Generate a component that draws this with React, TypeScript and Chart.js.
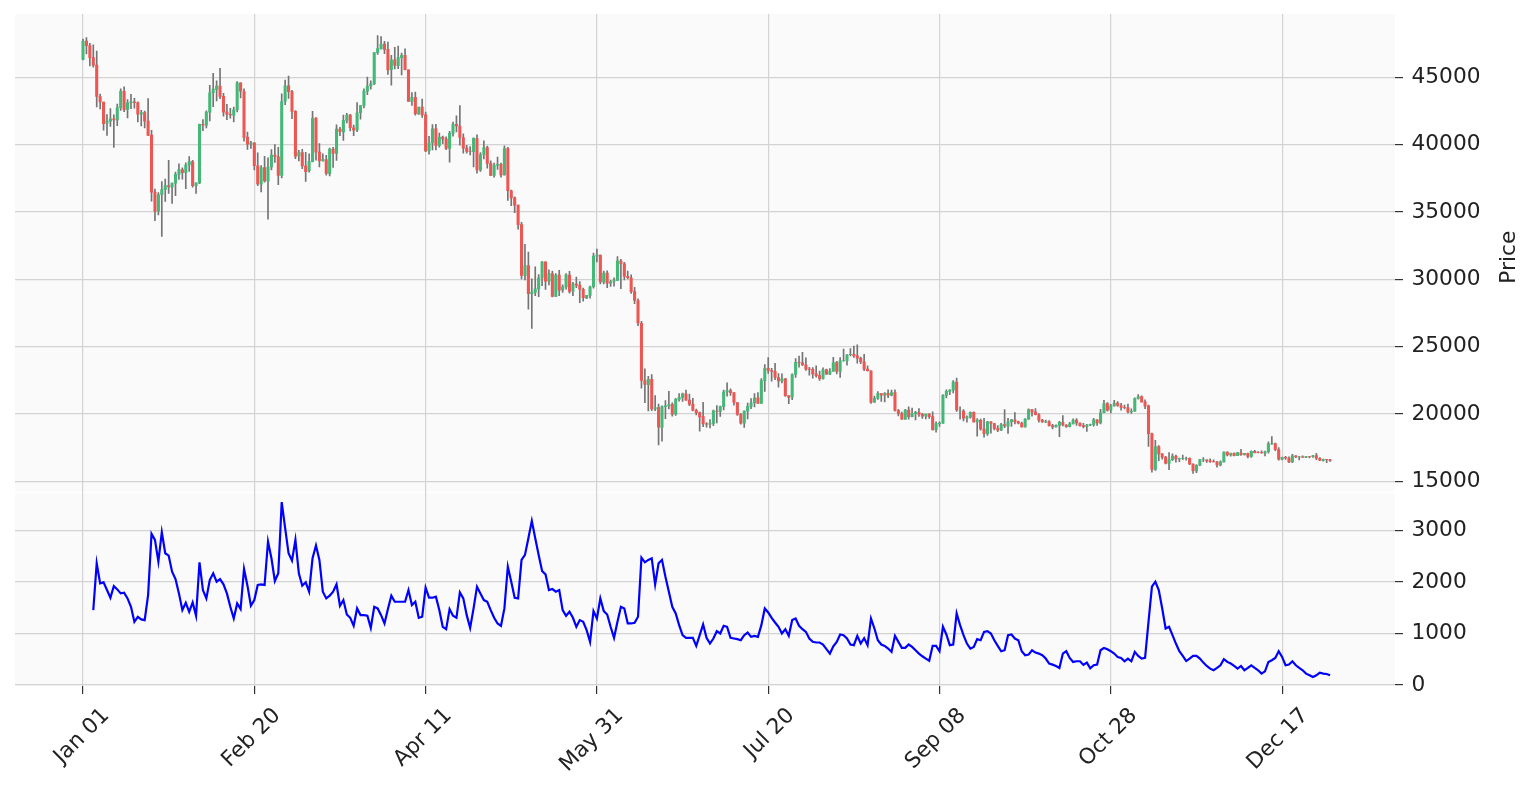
import React, { useEffect, useRef } from 'react';
import { Chart, registerables } from 'chart.js';

Chart.register(...registerables);

// ---- x axis (day index from Jan 01, 2022) ----
const xTickIndex = [0, 50, 100, 150, 200, 250, 300, 350];
const xTickLabels = ['Jan 01', 'Feb 20', 'Apr 11', 'May 31', 'Jul 20', 'Sep 08', 'Oct 28', 'Dec 17'];
const priceTicks = [15000, 20000, 25000, 30000, 35000, 40000, 45000];
const lowerTicks = [0, 1000, 2000, 3000];

// ---- daily OHLC, Jan 01 .. Dec 31 ----
const opens = [
  // Jan
  46311,47681,47343,46459,45899,43565,43153,41562,41734,41910,41820,42742,43946,42599,43102,43172,43118,42250,42374,41744,40699,36471,35047,36275,36654,36950,36841,37128,37781,38152,37920,
  // Feb
  38481,38744,36944,37149,41501,41441,42406,43855,44096,44348,43571,42412,42236,42157,42586,44578,43937,40552,40022,40119,38423,37068,38285,37278,38333,39213,39098,37707,
  // Mar
  43194,44357,43925,42459,39148,39404,38430,38060,38738,41974,39439,38794,38884,37846,39664,39335,41140,40944,41794,42191,41246,41074,42364,42886,43964,44350,44505,46821,47100,47456,47062,
  // Apr
  45554,46285,45859,46445,46624,45544,43208,43501,42282,42781,42202,39531,40114,41160,39939,40552,40418,39722,40828,41501,41372,40525,39738,39478,39472,40448,38121,39242,39768,38606,
  // May
  37713,38472,38528,37749,39696,36573,36042,35502,34060,30274,31016,28936,29031,29287,30099,31304,29863,30425,28720,30311,29199,29432,30309,29101,29653,29564,29251,28622,28812,29443,31723,
  // Jun
  31793,29794,30467,29707,29835,29911,31371,31151,30215,30096,29084,28421,26737,22486,22176,22566,20386,20473,19011,20554,20594,20719,19987,21085,21234,21497,21028,20731,20281,20108,
  // Jul
  19820,19275,19245,19298,20225,20194,20548,21637,21732,21587,20856,19971,19325,20211,20573,20834,21195,20782,22467,23393,23233,23163,22707,22465,22607,21361,21244,22933,23845,23797,23652,
  // Aug
  23336,23308,22981,22847,22626,23290,22963,23179,23812,23163,23949,23957,24403,24429,24319,24127,23881,23342,23213,20872,21160,21517,21401,21527,21397,21599,20262,20041,19615,20298,19799,
  // Sep
  20050,20126,19969,19832,19988,19817,18837,19290,19328,21376,21679,21771,22371,20233,20227,19701,19770,20127,19417,19538,18891,18534,19413,19297,18936,18803,19222,19104,19427,19573,
  // Oct
  19431,19312,19044,19623,20336,20161,19958,19547,19417,19446,19140,19052,19156,19382,19186,19068,19268,19551,19335,19139,19053,19172,19208,19567,19345,20092,20772,20287,20595,20817,20633,
  // Nov
  20494,20482,20163,20208,21144,21299,20905,20600,18543,15883,17584,17037,16800,16330,16618,16884,16670,16687,16697,16712,16291,15783,16195,16604,16602,16521,16463,16440,16218,16445,
  // Dec
  17168,16968,17090,16908,17128,16975,17089,16847,17233,17134,17129,17103,17206,17782,17814,17364,16647,16777,16739,16438,16904,16819,16829,16778,16843,16830,16920,16717,16552,16641,16603,
];

const highs = [
  47827,47944,47510,47406,46929,43749,43153,42229,42663,42199,43001,44135,44278,43346,43724,43436,43179,42534,42478,43413,41060,36689,36433,37247,37444,38825,37148,37952,38576,38266,38647,
  39116,38834,37154,41527,41847,42500,44401,45293,44727,45661,43810,42992,42693,42775,44667,44578,44132,40929,40247,40119,39394,38431,39122,39016,39630,40005,39794,43760,
  44793,45077,44021,42529,39566,39640,39430,39304,42465,42004,40081,39308,39209,39742,39794,41465,41287,42195,42316,42241,41454,43124,42893,44131,44999,44732,46827,48086,48022,47655,47601,
  46616,47213,47313,46791,47106,45544,43860,43903,42786,43376,42414,40617,41491,41500,40853,40633,40570,40978,41672,42126,42893,40799,39935,39845,40491,40713,39397,40269,39887,38795,
  38627,39074,38629,39902,39789,36625,36129,35502,34222,32596,32013,30033,30924,30343,31308,31305,30694,30618,30430,30664,29588,30425,30590,29774,30157,29834,29346,28814,29498,31949,32249,
  31795,30604,30633,29930,30117,31693,31489,31253,30609,30330,29402,28549,26887,23363,22804,22921,21365,20746,20610,20997,21684,20835,21159,21520,21559,21783,21478,21164,20364,20141,
  20865,19371,19595,20297,20635,20595,21772,22314,21877,21592,20857,20047,20244,20815,21138,21514,21600,22633,23666,24196,23388,23757,22999,22974,22649,21361,22986,24110,24294,24572,24174,
  23464,23443,23578,23194,23430,23327,23365,24203,23903,24180,24822,24412,24860,25047,25135,24226,24432,23581,23213,21340,21668,21517,21599,21800,21776,21795,20341,20137,20357,20542,20440,
  20208,20401,20056,19999,20031,20155,19427,19417,21439,21791,21817,22489,22673,20542,20330,19861,20162,20171,19656,19631,19674,19456,19441,19316,19135,19310,20338,19688,19602,20109,
  19472,19395,19653,20380,20343,20408,20041,19602,19542,19515,19241,19203,19453,19889,19212,19389,19635,19666,19348,19315,19237,19248,19685,19590,20348,21020,20855,20724,21023,20932,20795,
  20667,20742,20382,21209,21446,21346,21053,20664,18590,18054,17650,17070,16869,17131,17052,16960,16726,16947,16799,16746,16301,16253,16638,16771,16603,16666,16594,16482,16522,17197,
  17197,17109,17116,17158,17378,17091,17109,17267,17300,17217,17267,17242,17931,18319,17846,17505,16797,16859,16815,17013,16916,16866,16905,16864,16860,16937,17091,16773,16651,16643,16628,
];

const lows = [
  46288,46718,45835,45752,42798,42646,41077,40672,41338,39796,41407,42528,42447,41982,42670,42692,41680,41392,41242,40672,35791,34349,34784,33184,35779,36374,35629,36211,37406,37437,36733,
  38001,36832,36375,37093,41039,41244,41748,42807,43232,43402,42114,41852,41950,41681,42428,43457,40249,39637,39705,38112,36950,36488,37201,34459,38111,38677,37018,37518,
  42952,43432,41914,38954,38777,38211,37260,37957,38706,38832,38347,38772,37728,37680,38310,38828,40662,40302,41602,41004,40668,40948,41877,42726,43706,44107,44437,46690,47100,46746,45200,
  44403,45620,45634,45160,45544,43193,42899,42183,42234,42023,39469,39290,39602,39593,39809,40072,39620,38696,40618,40936,39949,39352,39352,39233,38338,37884,37997,38941,38243,37700,
  37585,38156,37585,37732,35856,35463,34941,33714,30033,29944,27784,26350,28783,28713,29523,29251,29590,28700,28709,28793,29027,29275,28975,28786,29384,28261,28382,28554,28604,29345,31287,
  29660,29652,29376,29475,29486,29895,29311,29944,30020,28944,28197,26560,21925,20846,20232,20246,20247,17709,17993,19651,20375,19848,19905,20945,20932,21016,20620,20228,19937,18729,
  19070,19023,18966,19139,19341,19822,20296,21320,21378,20666,19900,19239,18999,19636,20397,20518,20778,20781,21683,23009,22431,22557,21999,22300,21306,20776,21070,22722,23481,23581,23235,
  22890,22664,22730,22498,22588,22935,22913,23164,22982,22712,23919,23619,24321,24206,23774,23729,23213,23172,20782,20867,21078,20944,20905,21215,21340,20221,19860,19603,19600,19617,19781,
  19565,19814,19679,19636,19673,18801,18644,19076,19310,21194,21445,21560,20190,19618,19497,19400,19701,19387,18360,18809,18290,18415,18575,18821,18697,18772,18987,18553,19074,19265,
  19262,19025,19028,19603,19836,19929,19395,19370,19349,19102,18896,19029,18319,19115,18999,19036,19262,19145,19100,18971,18711,19132,19090,19162,19260,20077,20219,20086,20574,20556,20287,
  20374,20083,20054,20190,21097,20873,20405,17603,15682,15815,16543,16641,16300,15872,16544,16430,16460,16617,16570,16248,15599,15656,16170,16468,16407,16416,16437,16054,16140,16430,
  16888,16877,16888,16903,16922,16939,16750,16788,17105,17120,17089,16892,17099,17741,17276,16584,16585,16633,16385,16398,16752,16592,16796,16764,16735,16784,16618,16530,16508,16393,16490,
];

const closes = [
  47686,47345,46458,45897,43569,43160,41558,41734,41912,41822,42736,43949,42592,43099,43177,43113,42250,42375,41744,40680,36457,35030,36276,36654,36954,36852,37138,37784,38138,37917,38483,
  38743,36952,37154,41500,41441,42412,43840,44118,44338,43565,42407,42244,42197,42586,44575,43961,40538,40030,40122,38431,37075,38286,37296,38332,39214,39105,37709,43193,
  44354,43925,42452,39137,39400,38420,37988,38730,41941,39439,38795,38904,37849,39666,39338,41143,40951,41801,42190,41247,41077,42358,42892,43960,44348,44500,46820,47128,47465,47062,45538,
  46281,45868,46453,46622,45555,43206,43503,42287,42782,42207,39521,40127,41166,39935,40553,40424,39716,40827,41502,41374,40527,39740,39486,39469,40458,38117,39241,39773,38609,37714,
  38469,38529,37750,39698,36575,36040,35501,34059,30296,31022,28936,29047,29283,30101,31305,29862,30425,28720,30314,29200,29432,30323,29098,29655,29562,29267,28627,28814,29445,31726,31792,
  29799,30467,29704,29833,29906,31370,31155,30214,30112,29084,28424,26762,22487,22206,22572,20381,20471,19017,20553,20599,20710,19988,21085,21231,21502,21028,20735,20281,20104,19785,
  19270,19243,19297,20231,20190,20548,21637,21731,21592,20861,19970,19323,20212,20569,20836,21190,20779,22485,23389,23231,23164,22714,22465,22609,21361,21239,22930,23843,23804,23656,23336,
  23314,22978,22846,22630,23289,22961,23175,23810,23164,23948,23957,24402,24424,24319,24137,23883,23336,23212,20877,21166,21534,21398,21528,21395,21600,20260,20041,19616,20297,19797,20049,
  20127,19969,19832,19987,19812,18837,19290,19329,21381,21680,21769,22370,20296,20241,19701,19772,20127,19419,19544,18890,18547,19413,19297,18937,18802,19222,19110,19426,19573,19431,
  19312,19044,19623,20336,20160,19955,19546,19416,19446,19141,19051,19157,19382,19185,19067,19268,19550,19334,19139,19053,19172,19208,19567,19345,20095,20770,20285,20595,20818,20635,20495,
  20485,20159,20209,21148,21300,20905,20591,18547,15880,17586,17034,16800,16353,16619,16884,16669,16687,16697,16712,16291,15787,16189,16610,16604,16521,16464,16444,16217,16444,17168,
  16967,17088,16908,17130,16974,17089,16848,17233,17133,17128,17104,17206,17782,17815,17364,16648,16777,16738,16438,16895,16824,16821,16778,16837,16830,16919,16717,16552,16642,16603,16547,
];

// ---- lower panel line (starts at day index 3) ----
const lineStart = 3;
const lineValues = [
  1455,2364,1974,1994,1844,1695,1922,1857,1779,1792,
  1682,1519,1227,1325,1273,1260,1747,2935,2818,2396,
  2968,2558,2513,2201,2058,1779,1455,1597,1422,1604,
  1344,2383,1844,1682,2039,2169,2006,2058,1955,1779,
  1519,1292,1584,1474,2253,1929,1539,1649,1942,1955,
  1942,2786,2461,2019,2169,3552,3045,2558,2416,2818,
  2169,1929,1994,1812,2461,2708,2429,1812,1682,1734,
  1812,1955,1539,1649,1370,1305,1149,1487,1357,1357,
  1344,1110,1519,1487,1357,1195,1474,1734,1617,1617,
  1617,1617,1844,1552,
  1617,1305,1325,1890,1695,1695,1714,1455,1130,1084,
  1474,1344,1305,1799,1682,1357,1110,1487,1909,1779,
  1649,1617,1455,1305,1195,1149,1487,2299,2006,1695,
  1682,2429,2526,2851,3188,2851,2526,2214,2149,1844,
  1864,1812,1844,1455,1344,1422,1305,1130,1260,1227,
  1065,838,1435,1292,1682,1435,1370,1130,916,1227,
  1519,1487,1195,1195,1208,1325,2474,2383,2429,2461,
  1955,2364,2429,2104,1812,1519,1390,1162,968,916,
  916,916,760,968,1175,916,805,903,1045,1000,
  1149,1130,916,903,890,870,968,1019,935,955,
  935,1162,1487,1409,1305,1214,1130,1000,1084,955,
  1260,1292,1149,1084,1032,903,838,825,825,786,
  695,610,750,838,981,968,903,786,773,955,
  805,910,773,1292,1097,870,786,760,708,643,
  955,838,721,721,786,740,675,610,558,513,
  470,760,760,656,1130,981,773,786,1390,1162,
  968,805,708,740,890,870,1032,1045,1000,870,
  760,656,675,968,981,903,870,656,578,591,
  675,630,610,578,513,416,396,370,331,610,
  656,526,448,461,461,390,435,
  325,383,396,675,721,695,656,610,545,526,
  461,513,461,643,565,513,526,1227,1909,2006,
  1844,1487,1097,1130,968,805,656,565,465,513,
  565,565,513,435,370,318,286,331,383,500,
  448,416,370,318,370,286,331,383,331,286,
  221,266,448,481,526,656,545,383,396,461,
  383,331,286,221,188,156,188,240,221,214,
  188,
];

const UP = '#45b878';
const DOWN = '#ec5653';
const WICK = '#747474';
const GRID = '#d3d3d3';
const TEXT = '#222222';
const FONT = { family: 'DejaVu Sans', size: 21.7 };

const panelPlugin = {
  id: 'panels',
  beforeDraw(chart: any) {
    const { ctx, chartArea, scales } = chart;
    const up = scales.yPrice;
    const lo = scales.yLow;
    ctx.save();
    ctx.fillStyle = '#ffffff';
    ctx.fillRect(0, 0, chart.width, chart.height);
    ctx.fillStyle = '#fafafa';
    const w = chartArea.right - chartArea.left;
    const upper = up.top <= lo.top ? up : lo;
    const lower = up.top <= lo.top ? lo : up;
    ctx.fillRect(chartArea.left, upper.top, w, upper.bottom - upper.top - 1);
    ctx.fillRect(chartArea.left, lower.top + 1, w, lower.bottom - lower.top - 1);
    ctx.restore();
  },
  afterDraw(chart: any) {
    const { ctx, scales } = chart;
    const up = scales.yPrice;
    ctx.save();
    ctx.fillStyle = TEXT;
    ctx.font = `${FONT.size}px "${FONT.family}"`;
    ctx.textAlign = 'center';
    ctx.textBaseline = 'alphabetic';
    ctx.translate(1515, (up.top + up.bottom) / 2 + 4);
    ctx.rotate(-Math.PI / 2);
    ctx.fillText('Price', 0, 0);
    ctx.restore();
  },
};

const fitRightAxis = (s: any) => {
  s.width = 135;
  s.paddingTop = 0;
  s.paddingBottom = 0;
};

export default function App() {
  const ref = useRef<HTMLCanvasElement | null>(null);

  useEffect(() => {
    if (!ref.current) return;
    const wickData = closes.map((_, i) => ({ x: i, y: [lows[i], highs[i]] }));
    const bodyData = closes.map((c, i) => ({ x: i, y: [opens[i], c] }));
    const bodyColors = closes.map((c, i) => (c >= opens[i] ? UP : DOWN));
    const lineData = lineValues.map((v, i) => ({ x: i + lineStart, y: v }));

    const chart = new Chart(ref.current, {
      type: 'bar',
      data: {
        datasets: [
          {
            type: 'line',
            data: lineData,
            yAxisID: 'yLow',
            xAxisID: 'x',
            borderColor: '#0000ff',
            borderWidth: 2.2,
            pointRadius: 0,
            tension: 0,
            fill: false,
            order: 0,
          } as any,
          {
            type: 'bar',
            data: bodyData,
            yAxisID: 'yPrice',
            xAxisID: 'x',
            backgroundColor: bodyColors,
            borderWidth: 0,
            barThickness: 2.4,
            grouped: false,
            order: 1,
          } as any,
          {
            type: 'bar',
            data: wickData,
            yAxisID: 'yPrice',
            xAxisID: 'x',
            backgroundColor: WICK,
            borderWidth: 0,
            barThickness: 1,
            grouped: false,
            order: 2,
          } as any,
        ],
      },
      options: {
        responsive: false,
        animation: false,
        layout: { padding: { left: 15, top: 14, right: 0, bottom: 0 } },
        plugins: {
          legend: { display: false },
          tooltip: { enabled: false },
        },
        scales: {
          x: {
            type: 'linear',
            min: -19.85,
            max: 382.95,
            offset: false,
            afterBuildTicks: (s: any) => {
              s.ticks = xTickIndex.map((v) => ({ value: v }));
            },
            afterFit: (s: any) => {
              s.height = 104;
              s.paddingLeft = 0;
              s.paddingRight = 0;
            },
            ticks: {
              autoSkip: false,
              minRotation: 45,
              maxRotation: 45,
              padding: 9,
              labelOffset: 23,
              color: TEXT,
              font: FONT,
              callback: (v: any) => {
                const k = xTickIndex.indexOf(Number(v));
                return k >= 0 ? xTickLabels[k] : '';
              },
            },
            grid: {
              offset: false,
              color: GRID,
              lineWidth: 1.2,
              drawTicks: true,
              tickLength: 8,
              tickColor: '#333333',
              tickWidth: 1.2,
            },
            border: { display: false },
          },
          yPrice: {
            type: 'linear',
            position: 'right',
            stack: 'panes',
            stackWeight: 477,
            min: 14181,
            max: 49690,
            offset: false,
            afterBuildTicks: (s: any) => {
              s.ticks = priceTicks.map((v) => ({ value: v }));
            },
            afterFit: fitRightAxis,
            ticks: {
              padding: 8.5,
              color: TEXT,
              font: FONT,
              callback: (v: any) => String(v),
            },
            grid: {
              color: GRID,
              lineWidth: 1.2,
              drawTicks: true,
              tickLength: 8,
              tickColor: '#333333',
              tickWidth: 1.2,
            },
            border: { display: false },
          },
          yLow: {
            type: 'linear',
            position: 'right',
            stack: 'panes',
            stackWeight: 193,
            min: -19.5,
            max: 3740,
            offset: false,
            afterBuildTicks: (s: any) => {
              s.ticks = lowerTicks.map((v) => ({ value: v }));
            },
            afterFit: fitRightAxis,
            ticks: {
              padding: 8.5,
              color: TEXT,
              font: FONT,
              callback: (v: any) => String(v),
            },
            grid: {
              color: GRID,
              lineWidth: 1.2,
              drawTicks: true,
              tickLength: 8,
              tickColor: '#333333',
              tickWidth: 1.2,
            },
            border: { display: false },
          },
        },
      } as any,
      plugins: [panelPlugin],
    });
    return () => chart.destroy();
  }, []);

  return (
    <div style={{ position: 'absolute', left: 0, top: 0, width: 1530, height: 790, background: '#ffffff' }}>
      <canvas ref={ref} width={1530} height={790} style={{ display: 'block' }} />
    </div>
  );
}
